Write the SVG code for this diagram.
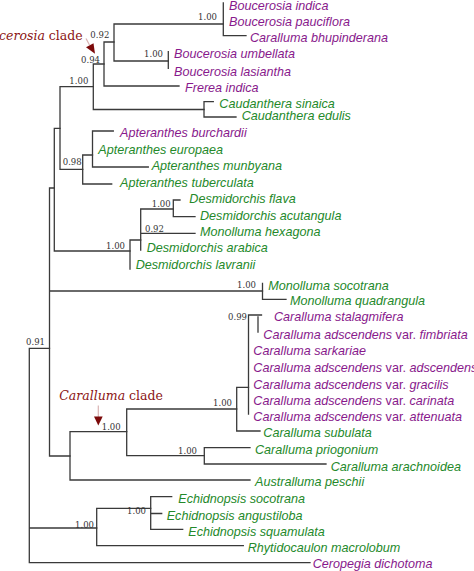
<svg xmlns="http://www.w3.org/2000/svg" width="474" height="571" viewBox="0 0 474 571">
<style>
.br{stroke:#3a3a3a;stroke-width:1.3;fill:none;stroke-linecap:square}
.tp{font-family:"Liberation Sans",Arial,sans-serif;font-style:italic;font-size:12.6px}
.pu{fill:#88198c}
.gr{fill:#24892a}
.nv{font-style:normal}
.sup{font-family:"DejaVu Serif",serif;font-size:8.5px;fill:#333}
.cl{font-family:"DejaVu Serif",serif;font-size:12.5px;fill:#8b1414}
.ar{fill:#7c0a0a}
.sh{stroke:#d9b3b3;stroke-width:1.2}
</style>
<rect width="474" height="571" fill="#fff"/>
<g id="connectors" class="br">
<path d="M29.3 348.3V562.7M29.3 348.3H49.5M29.3 528H96.7M29.3 562.7H310"/>
<path d="M49.5 188V456M49.5 188H54.3M49.5 291H262.5M49.5 456H70"/>
<path d="M54.3 128.3V251M54.3 128.3H60M54.3 251H130"/>
<path d="M60 86.7V169.3M60 86.7H93.3M60 169.3H82.7"/>
<path d="M93.3 64V109.5M93.3 64H104M93.3 109.5H204"/>
<path d="M104 42V86M104 42H114M104 86H179"/>
<path d="M114 24V61M114 24H223.3M114 61H168.3"/>
<path d="M223.3 3V35.7M223.3 35.7H246"/>
<path d="M168.3 51.7V68.3"/>
<path d="M204 101.7V117M204 101.7H213.3M204 117H236"/>
<path d="M82.7 155V184M82.7 184H111.7M82.7 155H92.5"/>
<path d="M92.5 131V167M92.5 131H113.3M92.5 167H148.3"/>
<path d="M130 240V269M130 240H140.7"/>
<path d="M140.7 209V250M140.7 209H173.3M140.7 233.3H195"/>
<path d="M173.3 200V216.7M173.3 200H180M173.3 216.7H195"/>
<path d="M262.5 283.3V299.3M262.5 299.3H286"/>
<path d="M70 431.7V480M70 431.7H126.7M70 480H250"/>
<path d="M126.7 409V455.7M126.7 409H236.7M126.7 455.7H204.3"/>
<path d="M204.3 447.7V464M204.3 447.7H250M204.3 464H326"/>
<path d="M236.7 387.3V431M236.7 387.3H248.5M236.7 431H260"/>
<path d="M248.5 315V414M248.5 315H261.5"/>
<path d="M258 317V332"/>
<path d="M96.7 508.3V545.7M96.7 508.3H150.7M96.7 545.7H243.3"/>
<path d="M150.7 496.7V529.3M150.7 496.7H171.7M150.7 513.5H161.7M150.7 529.3H182.7"/>
</g>
<g id="support">
<text class="sup" x="217" y="20.3" text-anchor="end">1.00</text>
<text class="sup" x="163" y="57" text-anchor="end">1.00</text>
<text class="sup" x="109.3" y="38" text-anchor="end">0.92</text>
<text class="sup" x="100" y="63" text-anchor="end">0.94</text>
<text class="sup" x="88.3" y="83.7" text-anchor="end">1.00</text>
<text class="sup" x="81.7" y="164.7" text-anchor="end">0.98</text>
<text class="sup" x="170.7" y="207" text-anchor="end">1.00</text>
<text class="sup" x="145" y="232.3">0.92</text>
<text class="sup" x="125" y="249" text-anchor="end">1.00</text>
<text class="sup" x="256" y="288" text-anchor="end">1.00</text>
<text class="sup" x="247" y="319.5" text-anchor="end">0.99</text>
<text class="sup" x="232" y="405.5" text-anchor="end">1.00</text>
<text class="sup" x="120.7" y="429.7" text-anchor="end">1.00</text>
<text class="sup" x="197" y="453.7" text-anchor="end">1.00</text>
<text class="sup" x="45" y="345.3" text-anchor="end">0.91</text>
<text class="sup" x="146" y="514" text-anchor="end">1.00</text>
<text class="sup" x="94" y="528" text-anchor="end">1.00</text>
</g>
<g id="clade-boucerosia">
<text class="cl" x="82.7" y="39.5" text-anchor="end"><tspan font-style="italic">Boucerosia</tspan> clade</text>
<line class="sh" x1="86" y1="38.5" x2="89.5" y2="45"/>
<polygon class="ar" points="86,47.3 93.5,43.3 95,53.8"/>
</g>
<g id="clade-caralluma">
<text class="cl" x="59.3" y="400.3"><tspan font-style="italic">Caralluma</tspan> clade</text>
<line class="sh" x1="98.3" y1="405.5" x2="98.3" y2="417"/>
<polygon class="ar" points="94,416.5 102.7,416.5 98.3,425.5"/>
</g>
<g id="t01"><text class="tp pu" x="229" y="9.5">Boucerosia indica</text></g>
<g id="t02"><text class="tp pu" x="229" y="26.2">Boucerosia pauciflora</text></g>
<g id="t03"><text class="tp pu" x="250" y="41.8">Caralluma bhupinderana</text></g>
<g id="t04"><text class="tp pu" x="174" y="57.8">Boucerosia umbellata</text></g>
<g id="t05"><text class="tp pu" x="174" y="75.5">Boucerosia lasiantha</text></g>
<g id="t06"><text class="tp pu" x="185" y="91.8">Frerea indica</text></g>
<g id="t07"><text class="tp gr" x="219.3" y="107.8">Caudanthera sinaica</text></g>
<g id="t08"><text class="tp gr" x="241.7" y="120.2">Caudanthera edulis</text></g>
<g id="t09"><text class="tp pu" x="120" y="136.8">Apteranthes burchardii</text></g>
<g id="t10"><text class="tp gr" x="98.3" y="153.5">Apteranthes europaea</text></g>
<g id="t11"><text class="tp gr" x="151.7" y="170.2">Apteranthes munbyana</text></g>
<g id="t12"><text class="tp gr" x="120" y="186.8">Apteranthes tuberculata</text></g>
<g id="t13"><text class="tp gr" x="189.3" y="202.8">Desmidorchis flava</text></g>
<g id="t14"><text class="tp gr" x="200" y="219.5">Desmidorchis acutangula</text></g>
<g id="t15"><text class="tp gr" x="200" y="236.2">Monolluma hexagona</text></g>
<g id="t16"><text class="tp gr" x="146.7" y="251.8">Desmidorchis arabica</text></g>
<g id="t17"><text class="tp gr" x="135.7" y="268.5">Desmidorchis lavranii</text></g>
<g id="t18"><text class="tp gr" x="268.3" y="289.5">Monolluma socotrana</text></g>
<g id="t19"><text class="tp gr" x="290" y="305.2">Monolluma quadrangula</text></g>
<g id="t20"><text class="tp pu" x="274" y="321.2">Caralluma stalagmifera</text></g>
<g id="t21"><text class="tp pu" x="263.3" y="338.5">Caralluma adscendens <tspan class="nv">var.</tspan> fimbriata</text></g>
<g id="t22"><text class="tp pu" x="253.3" y="355.2">Caralluma sarkariae</text></g>
<g id="t23"><text class="tp pu" x="253.3" y="371.8">Caralluma adscendens <tspan class="nv">var.</tspan> adscendens</text></g>
<g id="t24"><text class="tp pu" x="253.3" y="388.5">Caralluma adscendens <tspan class="nv">var.</tspan> gracilis</text></g>
<g id="t25"><text class="tp pu" x="253.3" y="404.5">Caralluma adscendens <tspan class="nv">var.</tspan> carinata</text></g>
<g id="t26"><text class="tp pu" x="253.3" y="420.5">Caralluma adscendens <tspan class="nv">var.</tspan> attenuata</text></g>
<g id="t27"><text class="tp gr" x="263.3" y="437.2">Caralluma subulata</text></g>
<g id="t28"><text class="tp gr" x="255" y="453.8">Caralluma priogonium</text></g>
<g id="t29"><text class="tp gr" x="330.7" y="470.5">Caralluma arachnoidea</text></g>
<g id="t30"><text class="tp gr" x="255" y="486.2">Australluma peschii</text></g>
<g id="t31"><text class="tp gr" x="178.3" y="502.8">Echidnopsis socotrana</text></g>
<g id="t32"><text class="tp gr" x="166.7" y="519.5">Echidnopsis angustiloba</text></g>
<g id="t33"><text class="tp gr" x="188.3" y="535.5">Echidnopsis squamulata</text></g>
<g id="t34"><text class="tp gr" x="247.7" y="552.2">Rhytidocaulon macrolobum</text></g>
<g id="t35"><text class="tp pu" x="312.7" y="567.8">Ceropegia dichotoma</text></g>
</svg>
